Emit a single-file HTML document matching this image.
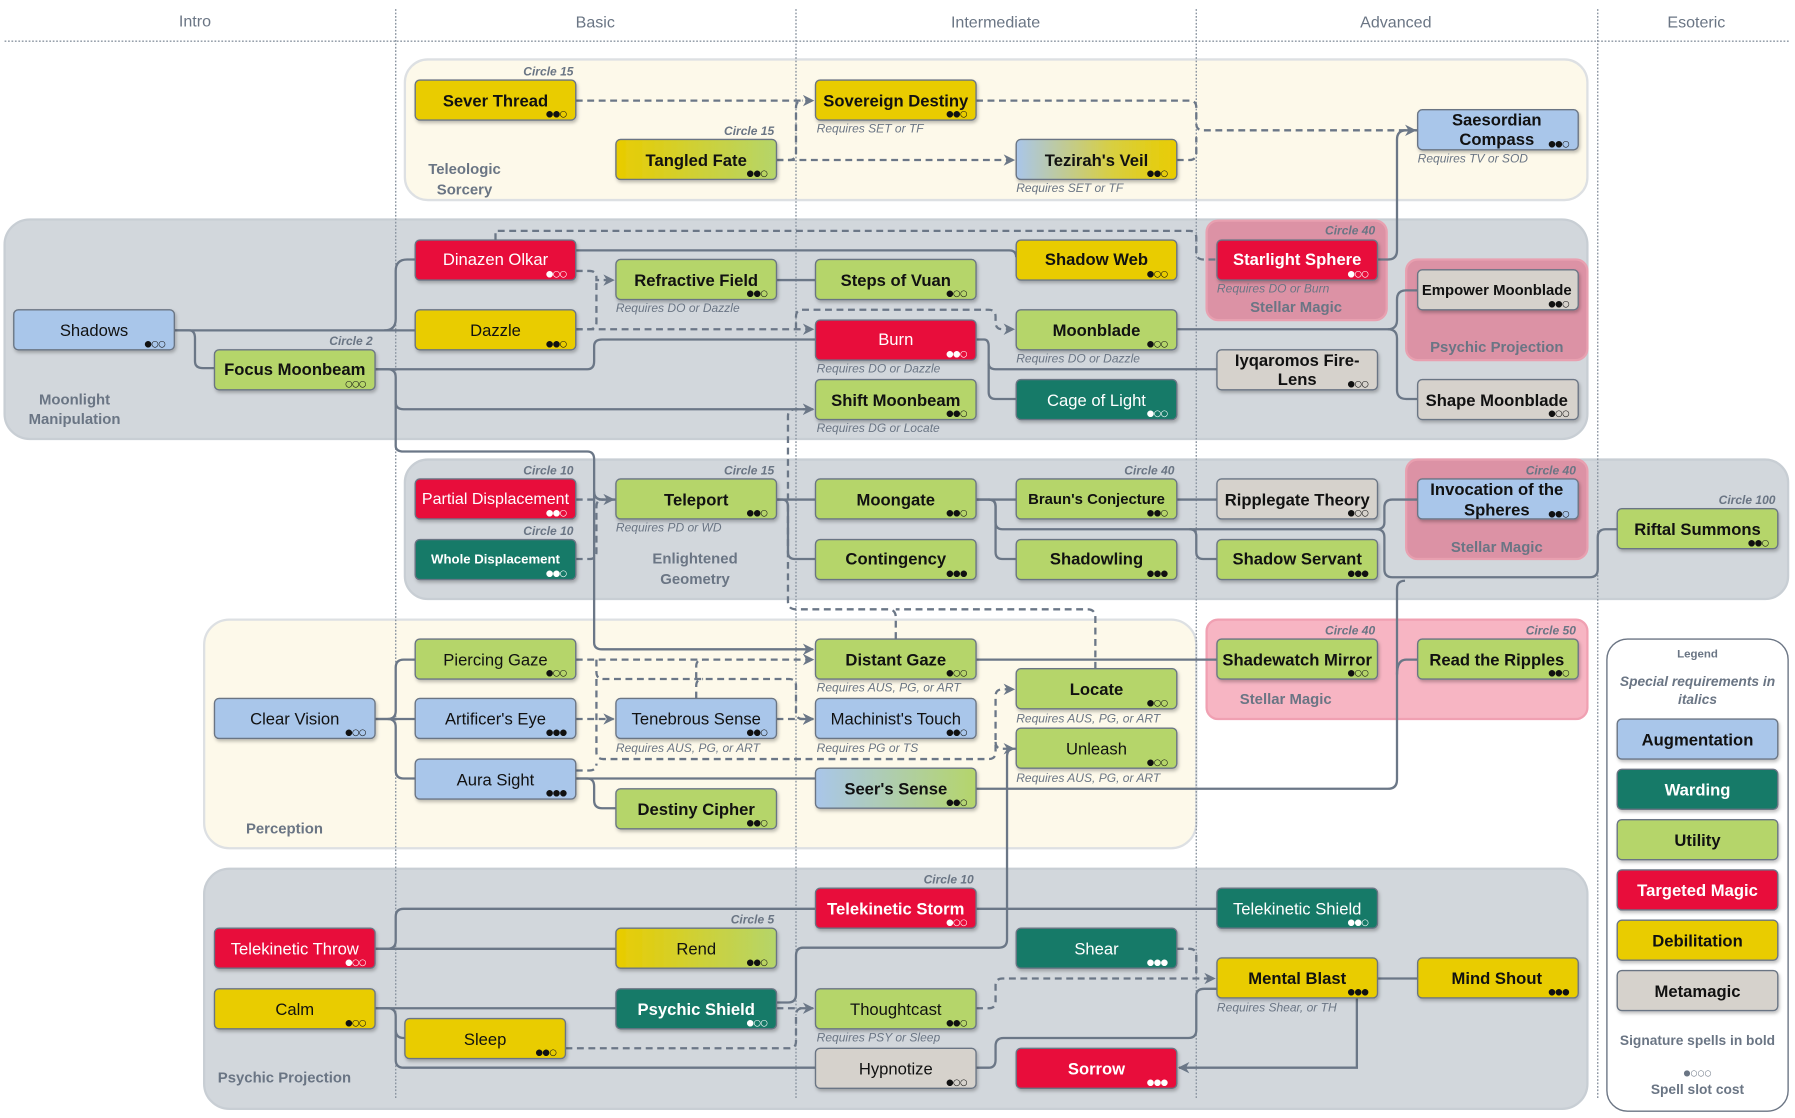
<!DOCTYPE html>
<html><head><meta charset="utf-8"><style>
html,body{margin:0;padding:0;background:#fff;width:1795px;height:1118px;overflow:hidden}
svg{display:block}
text{font-family:"Liberation Sans",sans-serif}
.n{font-size:14.5px;text-anchor:middle;fill:#111}
.b{font-weight:bold}
.w{fill:#fff}
.d{font-size:7.5px;text-anchor:end;fill:#111;font-family:"DejaVu Sans",sans-serif;letter-spacing:-0.5px}
.dw{fill:#fff}
.c{font-size:10.5px;font-style:italic;font-weight:bold;fill:#6a7584;text-anchor:end}
.r{font-size:10.5px;font-style:italic;fill:#6a7584}
.g{font-size:13px;font-weight:bold;fill:#6a7584;text-anchor:middle}
.h{font-size:14px;fill:#6a7584;text-anchor:middle}
.nd{stroke:#6b7584;stroke-width:1.2}
.Y{fill:#e9cc00}.G{fill:#b5d56a}.B{fill:#a9c6ea}.R{fill:#e8083a}.T{fill:#177a68}.M{fill:#d6d2cc}
.e{fill:none;stroke:#6b7787;stroke-width:2}
.x{fill:none;stroke:#6b7787;stroke-width:2;stroke-dasharray:6 4}
</style></head><body>
<svg width="1795" height="1118" viewBox="0 0 1565 978" preserveAspectRatio="none" xmlns="http://www.w3.org/2000/svg">
<defs>
<linearGradient id="yg" x1="0" x2="1"><stop offset="0" stop-color="#e9cc00"/><stop offset="1" stop-color="#b5d56a"/></linearGradient>
<linearGradient id="by" x1="0" x2="1"><stop offset="0" stop-color="#a9c6ea"/><stop offset="0.6" stop-color="#d8cf40"/><stop offset="1" stop-color="#e9cc00"/></linearGradient>
<linearGradient id="bg" x1="0" x2="1"><stop offset="0" stop-color="#a9c6ea"/><stop offset="1" stop-color="#b5d56a"/></linearGradient>
<marker id="a" viewBox="0 0 10 10" refX="9" refY="5" markerWidth="5" markerHeight="5" orient="auto"><path d="M0 0L10 5L0 10L3 5z" fill="#6b7787"/></marker>
<filter id="s" x="-10%" y="-10%" width="120%" height="140%"><feDropShadow dx="1" dy="2" stdDeviation="1.5" flood-color="#000" flood-opacity="0.25"/></filter>
</defs>

<!-- header -->
<text class="h" x="170" y="23">Intro</text>
<text class="h" x="519" y="24">Basic</text>
<text class="h" x="868" y="24">Intermediate</text>
<text class="h" x="1217" y="24">Advanced</text>
<text class="h" x="1479" y="24">Esoteric</text>
<line x1="4" y1="36" x2="1560" y2="36" stroke="#8a94a0" stroke-width="1.2" stroke-dasharray="1.5 1.5"/>

<!-- groups -->
<rect x="353" y="52" width="1031" height="123" rx="20" fill="#fdf9ea" stroke="#dde0e3" stroke-width="2"/>
<rect x="4" y="192" width="1380" height="192" rx="22" fill="#d2d7dc" stroke="#c8ced4" stroke-width="2"/>
<rect x="353" y="402" width="1206" height="122" rx="20" fill="#d2d7dc" stroke="#c8ced4" stroke-width="2"/>
<rect x="178" y="542" width="865" height="200" rx="22" fill="#fdf9ea" stroke="#dde0e3" stroke-width="2"/>
<rect x="178" y="760" width="1206" height="210" rx="22" fill="#d2d7dc" stroke="#c8ced4" stroke-width="2"/>
<rect x="1052" y="193" width="157" height="87" rx="10" fill="#dc92a5" stroke="#e8a0b0" stroke-width="2"/>
<rect x="1226" y="227" width="158" height="88" rx="10" fill="#dc92a5" stroke="#e8a0b0" stroke-width="2"/>
<rect x="1226" y="402" width="158" height="87" rx="10" fill="#dc92a5" stroke="#e8a0b0" stroke-width="2"/>
<rect x="1052" y="542" width="332" height="87" rx="10" fill="#f7b5c3" stroke="#f0a0b2" stroke-width="2"/>
<rect x="1401" y="559" width="158" height="413" rx="18" fill="#fff" stroke="#6b7584" stroke-width="1.2"/>

<!-- column lines -->
<g stroke="#8a94a0" stroke-width="1.2" stroke-dasharray="1.5 1.5">
<line x1="345" y1="8" x2="345" y2="962"/><line x1="694" y1="8" x2="694" y2="962"/><line x1="1043" y1="8" x2="1043" y2="962"/><line x1="1393" y1="8" x2="1393" y2="962"/>
</g>

<!-- group labels -->
<text class="g" x="405" y="152">Teleologic</text><text class="g" x="405" y="170">Sorcery</text>
<text class="g" x="65" y="354">Moonlight</text><text class="g" x="65" y="371">Manipulation</text>
<text class="g" x="606" y="493">Enlightened</text><text class="g" x="606" y="511">Geometry</text>
<text class="g" x="248" y="729">Perception</text>
<text class="g" x="248" y="947">Psychic Projection</text>
<text class="g" x="1130" y="273">Stellar Magic</text>
<text class="g" x="1305" y="308">Psychic Projection</text>
<text class="g" x="1305" y="483">Stellar Magic</text>
<text class="g" x="1121" y="616">Stellar Magic</text>

<!-- edges solid -->
<g class="e">
<path d="M152 289H335Q345 289 345 279V237Q345 227 355 227H362"/>
<path d="M335 289H362"/>
<path d="M152 289H165Q170 289 170 296V316Q170 322 177 322H187"/>
<path d="M327 323H512Q518 323 518 316V303Q518 297 525 297H711"/>
<path d="M327 323H338Q345 323 345 330V390Q345 395 352 395H512Q518 395 518 402V430Q518 437 525 437H537"/>
<path d="M345 350V352Q345 358 352 358H709" marker-end="url(#a)"/>
<path d="M518 430V562Q518 568 525 568H709" marker-end="url(#a)"/>
<path d="M502 219H880Q886 219 886 225"/>
<path d="M677 245H711"/>
<path d="M851 297H858Q862 297 862 303V318Q862 323 868 323H1061"/>
<path d="M862 318V343Q862 349 868 349H886"/>
<path d="M1026 288H1210Q1218 288 1218 280V262Q1218 254 1226 254H1236"/>
<path d="M1210 288Q1218 288 1218 296V341Q1218 349 1226 349H1236"/>
<path d="M1200 227H1210Q1218 227 1218 219V122Q1218 114 1226 114H1236"/>
<path d="M677 437H711"/>
<path d="M677 437H682Q687 437 687 443V483Q687 489 693 489H711"/>
<path d="M851 437H886"/>
<path d="M851 437H862Q868 437 868 443V483Q868 489 874 489H886"/>
<path d="M862 437Q868 437 868 443V457Q868 463 874 463H1200Q1207 463 1207 470V498Q1207 505 1214 505H1386Q1393 505 1393 498V470Q1393 463 1400 463H1410"/>
<path d="M1037 463Q1043 463 1043 469V483Q1043 489 1049 489H1061"/>
<path d="M1026 437H1061"/>
<path d="M1200 463Q1207 463 1207 457V444Q1207 437 1214 437H1236"/>
<path d="M851 690H1210Q1218 690 1218 682V515Q1218 508 1225 508"/>
<path d="M1218 590Q1218 577 1226 577H1236"/>
<path d="M851 577H1061"/>
<path d="M327 629H362"/>
<path d="M327 629H338Q345 629 345 622V584Q345 577 352 577H362"/>
<path d="M338 629Q345 629 345 636V674Q345 681 352 681H362"/>
<path d="M502 681H711"/>
<path d="M502 681H512Q518 681 518 688V700Q518 707 525 707H537"/>
<path d="M886 655H884Q878 655 878 662V822Q878 829 871 829H700Q694 829 694 836V870Q694 877 687 877H677"/>
<path d="M327 830H338Q345 830 345 823V802Q345 795 352 795H711"/>
<path d="M327 830H537"/>
<path d="M851 795H1061"/>
<path d="M327 882H537"/>
<path d="M327 882H338Q345 882 345 889V901Q345 908 352 908H353"/>
<path d="M345 901V927Q345 934 352 934H711"/>
<path d="M851 934H862Q868 934 868 927V915Q868 908 875 908H1036Q1043 908 1043 901V871Q1043 865 1050 865H1061"/>
<path d="M1200 856H1236"/>
<path d="M1183 873V934H1028" marker-end="url(#a)"/>
</g>
<!-- edges dashed -->
<g class="x">
<path d="M502 88H709" marker-end="url(#a)"/>
<path d="M677 140H688Q694 140 694 134V94Q694 88 700 88"/>
<path d="M677 140H884" marker-end="url(#a)"/>
<path d="M851 88H1037Q1043 88 1043 94V108Q1043 114 1049 114H1234" marker-end="url(#a)"/>
<path d="M1026 140H1037Q1043 140 1043 134V120"/>
<path d="M432 210V202H1037Q1043 202 1043 208V221Q1043 227 1049 227H1061"/>
<path d="M502 237H514Q520 237 520 243V245H535" marker-end="url(#a)"/>
<path d="M502 288H514Q520 288 520 282V247"/>
<path d="M502 288H709" marker-end="url(#a)"/>
<path d="M694 288V277Q694 271 700 271H862Q868 271 868 277V282Q868 288 874 288H884" marker-end="url(#a)"/>
<path d="M502 437H535" marker-end="url(#a)"/>
<path d="M502 489H514Q520 489 520 483V443Q520 437 526 437"/>
<path d="M781 559V540Q781 533 774 533H694Q687 533 687 526V364Q687 358 694 358H709" marker-end="url(#a)"/>
<path d="M955 585V540Q955 533 948 533H781"/>
<path d="M502 577H709" marker-end="url(#a)"/>
<path d="M520 577V588Q520 594 526 594H688Q694 594 694 600V623Q694 629 700 629H709" marker-end="url(#a)"/>
<path d="M607 611V600Q607 594 613 594"/>
<path d="M607 594V583Q607 577 613 577"/>
<path d="M502 629H535" marker-end="url(#a)"/>
<path d="M677 629H709" marker-end="url(#a)"/>
<path d="M520 594V658Q520 664 526 664H862Q868 664 868 658V609Q868 603 874 603H884" marker-end="url(#a)"/>
<path d="M868 649Q868 655 874 655H884" marker-end="url(#a)"/>
<path d="M502 674H514Q520 674 520 668"/>
<path d="M677 882H709" marker-end="url(#a)"/>
<path d="M493 917H688Q694 917 694 911V888Q694 882 700 882"/>
<path d="M851 882H862Q868 882 868 876V862Q868 856 874 856H1059" marker-end="url(#a)"/>
<path d="M1026 830H1037Q1043 830 1043 836V856"/>
</g>

<!-- nodes -->
<g filter="url(#s)" class="nd">
<rect x="362" y="70" width="140" height="35" rx="4" class="Y"/>
<rect x="711" y="70" width="140" height="35" rx="4" class="Y"/>
<rect x="537" y="122" width="140" height="35" rx="4" fill="url(#yg)"/>
<rect x="886" y="122" width="140" height="35" rx="4" fill="url(#by)"/>
<rect x="1236" y="96" width="140" height="35" rx="4" class="B"/>
<rect x="362" y="210" width="140" height="35" rx="4" class="R"/>
<rect x="537" y="227" width="140" height="35" rx="4" class="G"/>
<rect x="711" y="227" width="140" height="35" rx="4" class="G"/>
<rect x="886" y="210" width="140" height="35" rx="4" class="Y"/>
<rect x="1061" y="210" width="140" height="35" rx="4" class="R"/>
<rect x="1236" y="236" width="140" height="35" rx="4" class="M"/>
<rect x="12" y="271" width="140" height="35" rx="4" class="B"/>
<rect x="362" y="271" width="140" height="35" rx="4" class="Y"/>
<rect x="711" y="280" width="140" height="35" rx="4" class="R"/>
<rect x="886" y="271" width="140" height="35" rx="4" class="G"/>
<rect x="1061" y="306" width="140" height="35" rx="4" class="M"/>
<rect x="187" y="306" width="140" height="35" rx="4" class="G"/>
<rect x="711" y="332" width="140" height="35" rx="4" class="G"/>
<rect x="886" y="332" width="140" height="35" rx="4" class="T"/>
<rect x="1236" y="332" width="140" height="35" rx="4" class="M"/>
<rect x="362" y="419" width="140" height="35" rx="4" class="R"/>
<rect x="537" y="419" width="140" height="35" rx="4" class="G"/>
<rect x="711" y="419" width="140" height="35" rx="4" class="G"/>
<rect x="886" y="419" width="140" height="35" rx="4" class="G"/>
<rect x="1061" y="419" width="140" height="35" rx="4" class="M"/>
<rect x="1236" y="419" width="140" height="35" rx="4" class="B"/>
<rect x="1410" y="445" width="140" height="35" rx="4" class="G"/>
<rect x="362" y="472" width="140" height="35" rx="4" class="T"/>
<rect x="711" y="472" width="140" height="35" rx="4" class="G"/>
<rect x="886" y="472" width="140" height="35" rx="4" class="G"/>
<rect x="1061" y="472" width="140" height="35" rx="4" class="G"/>
<rect x="362" y="559" width="140" height="35" rx="4" class="G"/>
<rect x="711" y="559" width="140" height="35" rx="4" class="G"/>
<rect x="1061" y="559" width="140" height="35" rx="4" class="G"/>
<rect x="1236" y="559" width="140" height="35" rx="4" class="G"/>
<rect x="187" y="611" width="140" height="35" rx="4" class="B"/>
<rect x="362" y="611" width="140" height="35" rx="4" class="B"/>
<rect x="537" y="611" width="140" height="35" rx="4" class="B"/>
<rect x="711" y="611" width="140" height="35" rx="4" class="B"/>
<rect x="886" y="585" width="140" height="35" rx="4" class="G"/>
<rect x="886" y="637" width="140" height="35" rx="4" class="G"/>
<rect x="362" y="664" width="140" height="35" rx="4" class="B"/>
<rect x="711" y="672" width="140" height="35" rx="4" fill="url(#bg)"/>
<rect x="537" y="690" width="140" height="35" rx="4" class="G"/>
<rect x="711" y="777" width="140" height="35" rx="4" class="R"/>
<rect x="1061" y="777" width="140" height="35" rx="4" class="T"/>
<rect x="187" y="812" width="140" height="35" rx="4" class="R"/>
<rect x="537" y="812" width="140" height="35" rx="4" fill="url(#yg)"/>
<rect x="886" y="812" width="140" height="35" rx="4" class="T"/>
<rect x="1061" y="838" width="140" height="35" rx="4" class="Y"/>
<rect x="1236" y="838" width="140" height="35" rx="4" class="Y"/>
<rect x="187" y="865" width="140" height="35" rx="4" class="Y"/>
<rect x="537" y="865" width="140" height="35" rx="4" class="T"/>
<rect x="711" y="865" width="140" height="35" rx="4" class="G"/>
<rect x="353" y="891" width="140" height="35" rx="4" class="Y"/>
<rect x="711" y="917" width="140" height="35" rx="4" class="M"/>
<rect x="886" y="917" width="140" height="35" rx="4" class="R"/>
<!-- legend boxes -->
<rect x="1410" y="629" width="140" height="35" rx="4" class="B"/>
<rect x="1410" y="673" width="140" height="35" rx="4" class="T"/>
<rect x="1410" y="717" width="140" height="35" rx="4" class="G"/>
<rect x="1410" y="761" width="140" height="35" rx="4" class="R"/>
<rect x="1410" y="805" width="140" height="35" rx="4" class="Y"/>
<rect x="1410" y="849" width="140" height="35" rx="4" class="M"/>
</g>

<!-- node labels -->
<g>
<text class="n b" x="432" y="93">Sever Thread</text><text class="d" x="494" y="102">●●○</text>
<text class="n b" x="781" y="93">Sovereign Destiny</text><text class="d" x="843" y="102">●●○</text>
<text class="n b" x="607" y="145">Tangled Fate</text><text class="d" x="669" y="154">●●○</text>
<text class="n b" x="956" y="145">Tezirah's Veil</text><text class="d" x="1018" y="154">●●○</text>
<text class="n b" x="1305" y="110">Saesordian</text><text class="n b" x="1305" y="127">Compass</text><text class="d" x="1368" y="128">●●○</text>
<text class="n w" x="432" y="232">Dinazen Olkar</text><text class="d dw" x="494" y="242">●○○</text>
<text class="n b" x="607" y="250">Refractive Field</text><text class="d" x="669" y="259">●●○</text>
<text class="n b" x="781" y="250">Steps of Vuan</text><text class="d" x="843" y="259">●○○</text>
<text class="n b" x="956" y="232">Shadow Web</text><text class="d" x="1018" y="242">●○○</text>
<text class="n b w" x="1131" y="232">Starlight Sphere</text><text class="d dw" x="1193" y="242">●○○</text>
<text class="n b" x="1305" y="258" style="font-size:13px">Empower Moonblade</text><text class="d" x="1368" y="268">●●○</text>
<text class="n" x="82" y="294">Shadows</text><text class="d" x="144" y="303">●○○</text>
<text class="n" x="432" y="294">Dazzle</text><text class="d" x="494" y="303">●●○</text>
<text class="n w" x="781" y="302">Burn</text><text class="d dw" x="843" y="312">●●○</text>
<text class="n b" x="956" y="294">Moonblade</text><text class="d" x="1018" y="303">●○○</text>
<text class="n b" x="1131" y="320">Iyqaromos Fire-</text><text class="n b" x="1131" y="337">Lens</text><text class="d" x="1193" y="338">●○○</text>
<text class="n b" x="257" y="328">Focus Moonbeam</text><text class="d" x="319" y="338">○○○</text>
<text class="n b" x="781" y="355">Shift Moonbeam</text><text class="d" x="843" y="364">●●○</text>
<text class="n w" x="956" y="355">Cage of Light</text><text class="d dw" x="1018" y="364">●○○</text>
<text class="n b" x="1305" y="355">Shape Moonblade</text><text class="d" x="1368" y="364">●○○</text>
<text class="n w" x="432" y="441" style="font-size:14px">Partial Displacement</text><text class="d dw" x="494" y="451">●●○</text>
<text class="n b" x="607" y="442">Teleport</text><text class="d" x="669" y="451">●●○</text>
<text class="n b" x="781" y="442">Moongate</text><text class="d" x="843" y="451">●●○</text>
<text class="n b" x="956" y="441" style="font-size:13px">Braun's Conjecture</text><text class="d" x="1018" y="451">●●○</text>
<text class="n b" x="1131" y="442">Ripplegate Theory</text><text class="d" x="1193" y="451">●○○</text>
<text class="n b" x="1305" y="433">Invocation of the</text><text class="n b" x="1305" y="451">Spheres</text><text class="d" x="1368" y="452">●●○</text>
<text class="n b" x="1480" y="468">Riftal Summons</text><text class="d" x="1542" y="477">●●○</text>
<text class="n b w" x="432" y="493" style="font-size:11.5px">Whole Displacement</text><text class="d dw" x="494" y="504">●●○</text>
<text class="n b" x="781" y="494">Contingency</text><text class="d" x="843" y="504">●●●</text>
<text class="n b" x="956" y="494">Shadowling</text><text class="d" x="1018" y="504">●●●</text>
<text class="n b" x="1131" y="494">Shadow Servant</text><text class="d" x="1193" y="504">●●●</text>
<text class="n" x="432" y="582">Piercing Gaze</text><text class="d" x="494" y="591">●○○</text>
<text class="n b" x="781" y="582">Distant Gaze</text><text class="d" x="843" y="591">●○○</text>
<text class="n b" x="1131" y="582">Shadewatch Mirror</text><text class="d" x="1193" y="591">●○○</text>
<text class="n b" x="1305" y="582">Read the Ripples</text><text class="d" x="1368" y="591">●●○</text>
<text class="n" x="257" y="634">Clear Vision</text><text class="d" x="319" y="643">●○○</text>
<text class="n" x="432" y="634">Artificer's Eye</text><text class="d" x="494" y="643">●●●</text>
<text class="n" x="607" y="634">Tenebrous Sense</text><text class="d" x="669" y="643">●●○</text>
<text class="n" x="781" y="634">Machinist's Touch</text><text class="d" x="843" y="643">●●○</text>
<text class="n b" x="956" y="608">Locate</text><text class="d" x="1018" y="617">●○○</text>
<text class="n" x="956" y="660">Unleash</text><text class="d" x="1018" y="669">●○○</text>
<text class="n" x="432" y="687">Aura Sight</text><text class="d" x="494" y="696">●●●</text>
<text class="n b" x="781" y="695">Seer's Sense</text><text class="d" x="843" y="704">●●○</text>
<text class="n b" x="607" y="713">Destiny Cipher</text><text class="d" x="669" y="722">●●○</text>
<text class="n b w" x="781" y="800">Telekinetic Storm</text><text class="d dw" x="843" y="809">●○○</text>
<text class="n w" x="1131" y="800">Telekinetic Shield</text><text class="d dw" x="1193" y="809">●●○</text>
<text class="n w" x="257" y="835">Telekinetic Throw</text><text class="d dw" x="319" y="844">●○○</text>
<text class="n" x="607" y="835">Rend</text><text class="d" x="669" y="844">●●○</text>
<text class="n w" x="956" y="835">Shear</text><text class="d dw" x="1018" y="844">●●●</text>
<text class="n b" x="1131" y="861">Mental Blast</text><text class="d" x="1193" y="870">●●●</text>
<text class="n b" x="1305" y="861">Mind Shout</text><text class="d" x="1368" y="870">●●●</text>
<text class="n" x="257" y="888">Calm</text><text class="d" x="319" y="897">●○○</text>
<text class="n b w" x="607" y="888">Psychic Shield</text><text class="d dw" x="669" y="897">●○○</text>
<text class="n" x="781" y="888">Thoughtcast</text><text class="d" x="843" y="897">●●○</text>
<text class="n" x="423" y="914">Sleep</text><text class="d" x="485" y="923">●●○</text>
<text class="n" x="781" y="940">Hypnotize</text><text class="d" x="843" y="949">●○○</text>
<text class="n b w" x="956" y="940">Sorrow</text><text class="d dw" x="1018" y="949">●●●</text>
</g>

<!-- circle labels -->
<text class="c" x="500" y="66">Circle 15</text>
<text class="c" x="675" y="118">Circle 15</text>
<text class="c" x="325" y="302">Circle 2</text>
<text class="c" x="1199" y="205">Circle 40</text>
<text class="c" x="500" y="415">Circle 10</text>
<text class="c" x="675" y="415">Circle 15</text>
<text class="c" x="1024" y="415">Circle 40</text>
<text class="c" x="1374" y="415">Circle 40</text>
<text class="c" x="1548" y="441">Circle 100</text>
<text class="c" x="500" y="468">Circle 10</text>
<text class="c" x="1199" y="555">Circle 40</text>
<text class="c" x="1374" y="555">Circle 50</text>
<text class="c" x="849" y="773">Circle 10</text>
<text class="c" x="675" y="808">Circle 5</text>

<!-- requires -->
<text class="r" x="712" y="116">Requires SET or TF</text>
<text class="r" x="886" y="168">Requires SET or TF</text>
<text class="r" x="1236" y="142">Requires TV or SOD</text>
<text class="r" x="537" y="273">Requires DO or Dazzle</text>
<text class="r" x="1061" y="256">Requires DO or Burn</text>
<text class="r" x="712" y="326">Requires DO or Dazzle</text>
<text class="r" x="886" y="317">Requires DO or Dazzle</text>
<text class="r" x="712" y="378">Requires DG or Locate</text>
<text class="r" x="537" y="465">Requires PD or WD</text>
<text class="r" x="712" y="605">Requires AUS, PG, or ART</text>
<text class="r" x="537" y="658">Requires AUS, PG, or ART</text>
<text class="r" x="712" y="658">Requires PG or TS</text>
<text class="r" x="886" y="632">Requires AUS, PG, or ART</text>
<text class="r" x="886" y="684">Requires AUS, PG, or ART</text>
<text class="r" x="712" y="911">Requires PSY or Sleep</text>
<text class="r" x="1061" y="885">Requires Shear, or TH</text>

<!-- legend -->
<text x="1480" y="575" style="font-size:10px;font-weight:bold;fill:#6a7584;text-anchor:middle">Legend</text>
<text x="1480" y="600" style="font-size:12px;font-style:italic;font-weight:bold;fill:#6a7584;text-anchor:middle">Special requirements in</text>
<text x="1480" y="616" style="font-size:12px;font-style:italic;font-weight:bold;fill:#6a7584;text-anchor:middle">italics</text>
<text class="n b" x="1480" y="652">Augmentation</text>
<text class="n b w" x="1480" y="696">Warding</text>
<text class="n b" x="1480" y="740">Utility</text>
<text class="n b w" x="1480" y="784">Targeted Magic</text>
<text class="n b" x="1480" y="828">Debilitation</text>
<text class="n b" x="1480" y="872">Metamagic</text>
<text x="1480" y="914" style="font-size:12px;font-weight:bold;fill:#6a7584;text-anchor:middle">Signature spells in bold</text>
<text x="1480" y="941" style="font-size:7px;fill:#6a7584;text-anchor:middle;font-family:'DejaVu Sans',sans-serif">●○○○</text>
<text x="1480" y="957" style="font-size:12px;font-weight:bold;fill:#6a7584;text-anchor:middle">Spell slot cost</text>
</svg>
</body></html>
